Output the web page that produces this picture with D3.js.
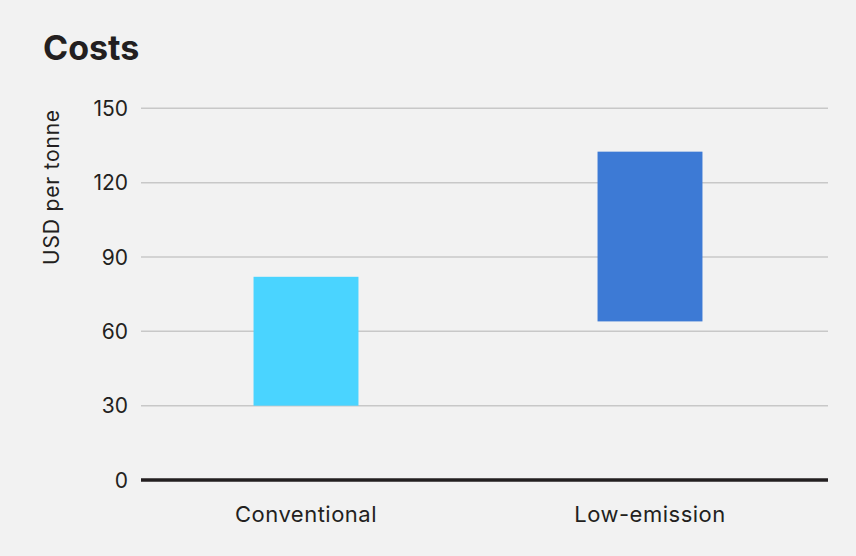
<!DOCTYPE html>
<html>
<head>
<meta charset="utf-8">
<script src="https://cdn.jsdelivr.net/npm/d3@7"></script>
<style>
  html, body { margin: 0; padding: 0; background: #f2f2f2; }
  svg { display: block; font-family: Inter, "Noto Sans", sans-serif; }
  .grid line { stroke: #c8c8c8; stroke-width: 1.5; }
  .tick-label { fill: #231f20; font-size: 21px; }
</style>
</head>
<body>
<div id="chart"></div>
<script>
// Floating range bars: cost range per tonne
const categories = ["Conventional", "Low-emission"];
const lowValues = [30, 64];
const highValues = [82, 132.5];
const barColors = ["#4ad4ff", "#3d7ad5"];
const yTicks = [0, 30, 60, 90, 120, 150];

const width = 856, height = 556;
const margin = { top: 108.3, right: 28, bottom: 76, left: 141 };

const svg = d3.select("#chart").append("svg")
    .attr("width", width)
    .attr("height", height);

svg.append("rect")
    .attr("width", width)
    .attr("height", height)
    .attr("fill", "#f2f2f2");

const y = d3.scaleLinear()
    .domain([0, 150])
    .range([height - margin.bottom, margin.top]);

// band centres sit slightly left of the gridline span
const x = d3.scaleBand()
    .domain(categories)
    .range([134, 822])
    .padding(0);

const barW = x.bandwidth() * 0.305;

// Gridlines
const grid = svg.append("g").attr("class", "grid");
grid.selectAll("line")
    .data(yTicks.filter(d => d > 0))
    .enter().append("line")
    .attr("x1", margin.left)
    .attr("x2", width - margin.right)
    .attr("y1", d => y(d))
    .attr("y2", d => y(d));

// Tick labels
svg.append("g").selectAll("text")
    .data(yTicks)
    .enter().append("text")
    .attr("class", "tick-label")
    .attr("x", 128)
    .attr("y", d => y(d))
    .attr("dy", "0.36em")
    .attr("text-anchor", "end")
    .text(d => d);

// Bars
svg.append("g").selectAll("rect")
    .data(categories)
    .enter().append("rect")
    .attr("x", d => x(d) + x.bandwidth() / 2 - barW / 2)
    .attr("width", barW)
    .attr("y", (d, i) => y(highValues[i]))
    .attr("height", (d, i) => y(lowValues[i]) - y(highValues[i]))
    .attr("fill", (d, i) => barColors[i]);

// Zero baseline
svg.append("line")
    .attr("x1", margin.left)
    .attr("x2", width - margin.right)
    .attr("y1", y(0))
    .attr("y2", y(0))
    .attr("stroke", "#231f20")
    .attr("stroke-width", 3.5);

// Category labels
svg.append("g").selectAll("text")
    .data(categories)
    .enter().append("text")
    .attr("x", d => x(d) + x.bandwidth() / 2)
    .attr("y", 522)
    .attr("text-anchor", "middle")
    .attr("fill", "#231f20")
    .attr("font-size", 22)
    .attr("letter-spacing", 0.5)
    .text(d => d);

// Axis title
svg.append("text")
    .attr("transform", `translate(59,${(108 + 266) / 2}) rotate(-90)`)
    .attr("text-anchor", "middle")
    .attr("fill", "#231f20")
    .attr("font-size", 21)
    .attr("letter-spacing", 0.8)
    .text("USD per tonne");

// Title
svg.append("text")
    .attr("x", 43)
    .attr("y", 60)
    .attr("fill", "#231f20")
    .attr("font-size", 34)
    .attr("font-weight", 700)
    .text("Costs");
</script>
</body>
</html>
